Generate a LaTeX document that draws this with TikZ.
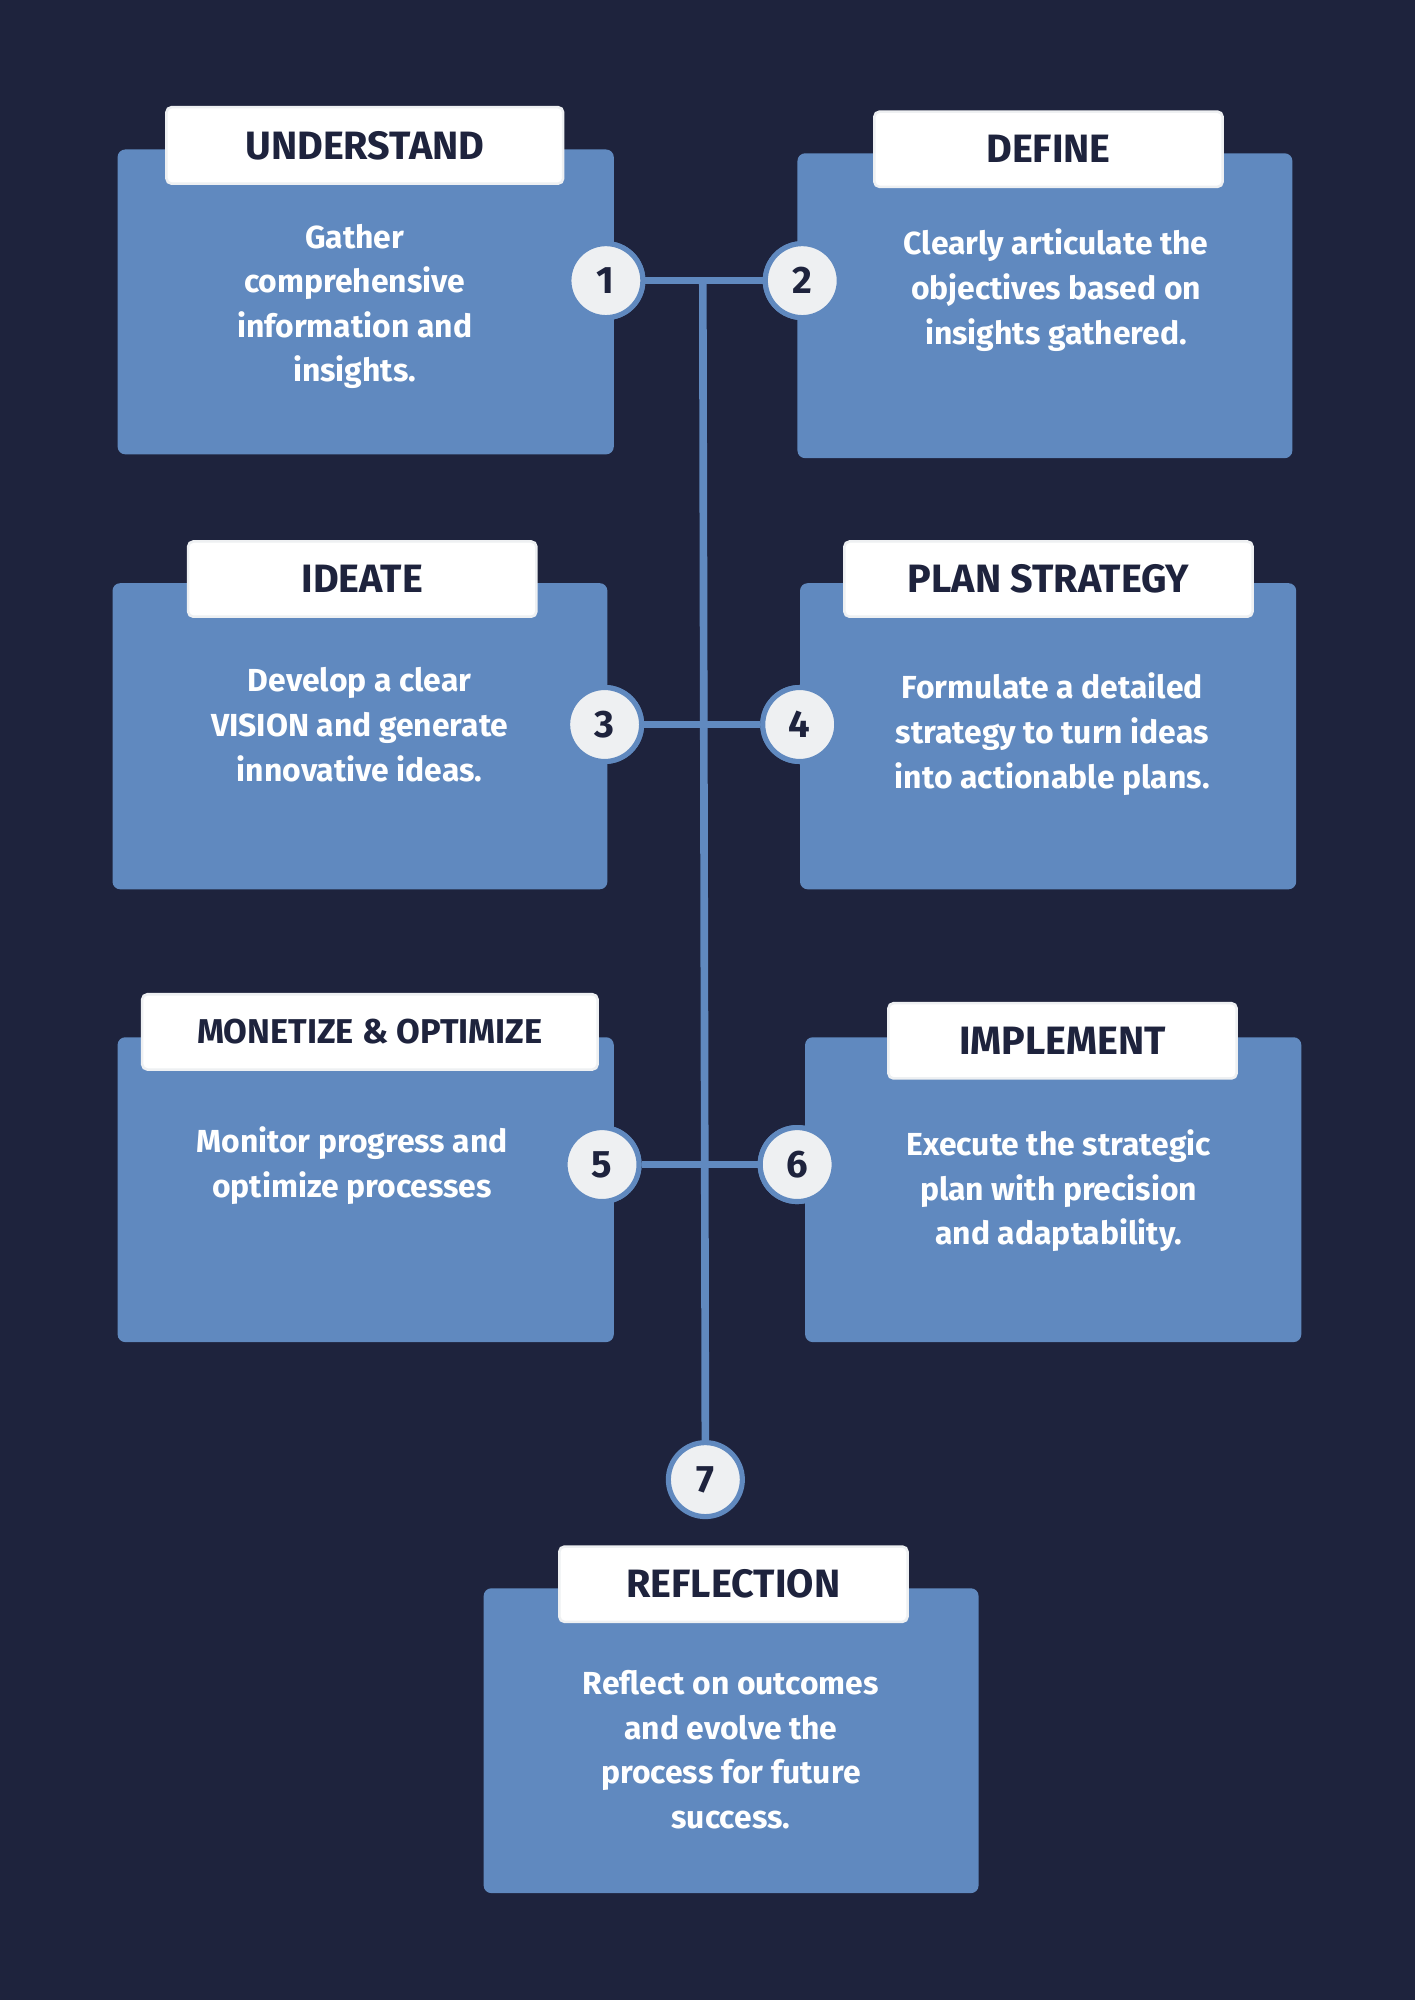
\documentclass[tikz,border=0pt]{standalone}
\usepackage{fontspec}
\setmainfont{Fira Sans}
\usetikzlibrary{positioning}
\definecolor{night}{HTML}{1E233D}
\definecolor{steel}{HTML}{6089BF}
\definecolor{paper}{HTML}{EEF0F2}
\tikzset{%
    card/.style = {fill=steel, rounded corners=6pt, anchor=north west, inner sep=0pt},
    tag/.style = {fill=white, draw=paper, line width=2pt, rounded corners=4pt,
        text=night, font=\fontsize{31}{36}\selectfont\bfseries, inner sep=0pt},
    body/.style = {text=white, font=\fontsize{25}{35}\selectfont\bfseries,
        align=center, anchor=north},
    num/.style = {circle, fill=paper, draw=steel, line width=4pt, minimum size=58pt,
        text=night, font=\fontsize{30}{30}\selectfont\bfseries, inner sep=0pt},
    link/.style = {draw=steel, line width=6pt}
}
\begin{document}
\begin{tikzpicture}[x=1pt, y=-1pt]
    \fill[night] (0,0) rectangle (1109,1568);
    \useasboundingbox (0,0) rectangle (1109,1568);
    % cards
    \node[card, minimum width=389pt, minimum height=239pt] (box1) at (92,117) {};
    \node[card, minimum width=388pt, minimum height=239pt] (box2) at (625,120) {};
    \node[card, minimum width=388pt, minimum height=240pt] (box3) at (88,457) {};
    \node[card, minimum width=389pt, minimum height=240pt] (box4) at (627,457) {};
    \node[card, minimum width=389pt, minimum height=239pt] (box5) at (92,813) {};
    \node[card, minimum width=389pt, minimum height=239pt] (box6) at (631,813) {};
    \node[card, minimum width=388pt, minimum height=239pt] (box7) at (379,1245) {};
    % title tags
    \node[tag, minimum width=311pt, minimum height=60pt] (tag1) at (286,114) {UNDERSTAND};
    \node[tag, minimum width=273pt, minimum height=59pt] (tag2) at (822,117) {DEFINE};
    \node[tag, minimum width=273pt, minimum height=59pt] (tag3) at (284,454) {IDEATE};
    \node[tag, minimum width=320pt, minimum height=59pt] (tag4) at (822,454) {PLAN STRATEGY};
    \node[tag, minimum width=357pt, minimum height=59pt, font=\fontsize{27}{30}\selectfont\bfseries] (tag5) at (290,809) {MONETIZE \& OPTIMIZE};
    \node[tag, minimum width=273pt, minimum height=59pt] (tag6) at (833,816) {IMPLEMENT};
    \node[tag, minimum width=273pt, minimum height=59pt] (tag7) at (575,1242) {REFLECTION};
    % texts
    \node[body] (txt1) at (278,172) {Gather\\comprehensive\\information and\\insights.};
    \node[body] (txt2) at (828,176) {Clearly articulate the\\objectives based on\\insights gathered.};
    \node[body] (txt3) at (282,520) {Develop a clear\\VISION and generate\\innovative ideas.};
    \node[body] (txt4) at (825,524) {Formulate a detailed\\strategy to turn ideas\\into actionable plans.};
    \node[body] (txt5) at (276,880) {Monitor progress and\\optimize processes};
    \node[body] (txt6) at (830,882) {Execute the strategic\\plan with precision\\and adaptability.};
    \node[body] (txt7) at (573,1306) {Reflect on outcomes\\and evolve the\\process for future\\success.};
    % timeline
    \coordinate (top) at (551,220);
    \node[num] (num7) at (553,1160) {7};
    \draw[link] (top) -- (num7.north);
    \node[num] (num1) at (475,220) {1};
    \node[num] (num2) at (629,220) {2};
    \node[num] (num3) at (474,568) {3};
    \node[num] (num4) at (627,568) {4};
    \node[num] (num5) at (472,913) {5};
    \node[num] (num6) at (625,913) {6};
    \draw[link] (num1) -- (num2) (num3) -- (num4) (num5) -- (num6);
    \node[num] at (num1) {1}; \node[num] at (num2) {2};
    \node[num] at (num3) {3}; \node[num] at (num4) {4};
    \node[num] at (num5) {5}; \node[num] at (num6) {6};
\end{tikzpicture}
\end{document}
